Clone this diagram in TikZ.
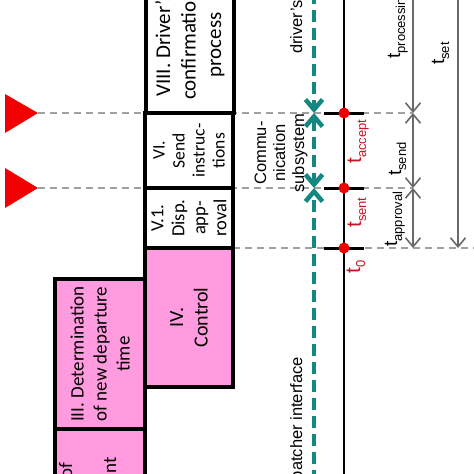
\documentclass[tikz,border=0pt]{standalone}
\usepackage{fontspec}
\setmainfont{Liberation Sans}
\newfontfamily\boxfont{Carlito}
\usetikzlibrary{arrows.meta}
\definecolor{pinkf}{RGB}{255,155,222}
\definecolor{tealc}{RGB}{20,135,128}
\definecolor{redt}{RGB}{200,20,40}
\definecolor{redd}{RGB}{240,0,0}
\definecolor{dimg}{RGB}{105,105,105}
\definecolor{dashg}{RGB}{160,160,160}
\newcommand{\tsb}[1]{t\raisebox{-5pt}{\fontsize{13}{13}\selectfont #1}}
\tikzset{
  ttip/.tip={Straight Barb[length=10pt,width=17pt]},
  dtip/.tip={Straight Barb[length=9pt,width=15pt]}
}
\begin{document}
\begin{tikzpicture}[x=1pt,y=-1pt,
  stage/.style={draw=black, line width=3.5pt, inner sep=0pt, rotate=90, align=center, minimum height=88pt},
  guide/.style={draw=dashg, line width=1.5pt, dash pattern=on 7pt off 5pt},
  tealline/.style={draw=tealc, line width=4.5pt, dash pattern=on 12pt off 6pt},
  dimline/.style={draw=dimg, line width=1.6pt},
  tick/.style={draw=black, line width=3pt},
  dot/.style={circle, fill=redd, inner sep=0pt, minimum size=11pt},
  tl/.style={rotate=90, anchor=base west, inner sep=0pt, font=\fontsize{19}{19}\selectfont},
  rl/.style={tl, text=redt, font=\fontsize{21}{21}\selectfont},
  note/.style={rotate=90, inner sep=0pt, align=center, font=\fontsize{16.5}{19}\selectfont}
]
\useasboundingbox (0,0) rectangle (474,474);
\clip (0,0) rectangle (474,474);

% coordinates
\coordinate (a1) at (38,113);
\coordinate (a2) at (38,188);
\coordinate (c0) at (233,248);
\coordinate (g1) at (413,113);
\coordinate (g2) at (413,188);
\coordinate (g3) at (480,248);
\coordinate (tt) at (314,-8);
\coordinate (t1) at (314,113);
\coordinate (t2) at (314,188);
\coordinate (tb) at (314,482);
\coordinate (bt) at (344,-8);
\coordinate (bb) at (344,482);
\coordinate (d0) at (413,-8);
\coordinate (d1) at (413,113);
\coordinate (d2) at (413,188);
\coordinate (d3) at (413,248);
\coordinate (e0) at (458,-8);
\coordinate (e3) at (458,248);
\coordinate (k1l) at (324,113); \coordinate (k1r) at (364,113);
\coordinate (k2l) at (324,188); \coordinate (k2r) at (364,188);
\coordinate (k3l) at (324,248); \coordinate (k3r) at (364,248);

% red triangles
\fill[redd] (5,94) -- (a1) -- (5,133) -- cycle;
\fill[redd] (5,168) -- (a2) -- (5,208) -- cycle;

% guide lines
\draw[guide] (a1) -- (g1);
\draw[guide] (a2) -- (g2);
\draw[guide] (c0) -- (g3);

% stages
\node[stage, fill=white, minimum width=136pt, font=\boxfont\fontsize{21}{25.5}\selectfont] (s8) at (190,45) {VIII. Driver’s\\confirmation\\process};
\node[stage, fill=white, minimum width=75pt, font=\boxfont\fontsize{17.5}{20}\selectfont] (s6) at (189,150.5) {VI.\\Send\\instruc-\\tions};
\node[stage, fill=white, minimum width=60pt, font=\boxfont\fontsize{18.5}{21}\selectfont] (s51) at (189,218) {V.1.\\Disp.\\app-\\roval};
\node[stage, fill=pinkf, minimum width=139pt, font=\boxfont\fontsize{20}{24.5}\selectfont] (s4) at (189,317.5) {IV.\\Control};
\node[stage, fill=pinkf, minimum width=150pt, minimum height=90pt, font=\boxfont\fontsize{19}{23}\selectfont] (s3) at (100,354) {III. Determination\\of new departure\\time};
\node[stage, fill=pinkf, minimum width=110pt, minimum height=90pt] (s2) at (100,484) {};
\node[rotate=90, anchor=base east, inner sep=0pt, font=\boxfont\fontsize{19}{23}\selectfont] (f1) at (72,462) {of};
\node[rotate=90, anchor=base east, inner sep=0pt, font=\boxfont\fontsize{19}{23}\selectfont] (f2) at (116,457) {nt};

% teal interface line
\draw[tealline, -{ttip}] (tt) -- (t1);
\draw[tealline, {ttip}-{ttip}] (t1) -- (t2);
\draw[tealline, -{ttip}] (tb) -- (t2);

% time axis
\draw[draw=black, line width=2.5pt] (bt) -- (bb);
\draw[tick] (k1l) -- (k1r);
\draw[tick] (k2l) -- (k2r);
\draw[tick] (k3l) -- (k3r);
\node[dot] (p1) at (344,113) {};
\node[dot] (p2) at (344,188) {};
\node[dot] (p3) at (344,248) {};

% dimension arrows
\draw[dimline, -{dtip}] (d0) -- (d1);
\draw[dimline, {dtip}-{dtip}] (d1) -- (d2);
\draw[dimline, {dtip}-{dtip}] (d2) -- (d3);
\draw[dimline, -{dtip}] (e0) -- (e3);

% labels
\node[rl] (la) at (361,164) {\tsb{accept}};
\node[rl] (ls) at (361,228) {\tsb{sent}};
\node[rl] (l0) at (360,274) {\tsb{0}};
\node[tl] (lp) at (400,59) {\tsb{processing}};
\node[tl] (lsd) at (401,176) {\tsb{send}};
\node[tl] (lap) at (397,247) {\tsb{approval}};
\node[tl] (lst) at (444,65) {\tsb{set}};

\node[note] (cs) at (281,153) {Commu-\\nication\\subsystem};
\node[tl, font=\fontsize{16.5}{19}\selectfont] (di) at (302,54) {driver’s interface};
\node[tl, anchor=base east, font=\fontsize{16.5}{19}\selectfont] (pi) at (302,357) {dispatcher interface};
\end{tikzpicture}
\end{document}
